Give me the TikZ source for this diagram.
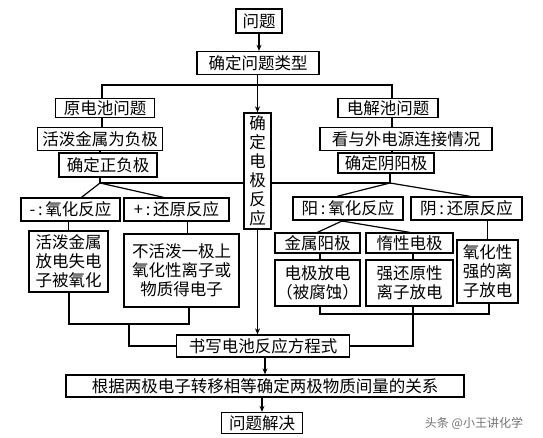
\documentclass[tikz,border=0pt]{standalone}
\usepackage{fontspec}
\newfontfamily\cjk{Noto Sans CJK SC}
\usetikzlibrary{arrows.meta, calc, positioning}
\tikzset{
  box/.style   = {draw, line width=1.3pt, inner sep=1pt, align=center,
                  font=\cjk\fontsize{16.5}{19}\selectfont},
  conn/.style  = {line width=1.2pt},
  arr/.style   = {line width=1.2pt, -{Stealth[length=6pt, width=5pt]}},
  wmark/.style = {font=\cjk\fontsize{12}{14}\selectfont, black!55},
}

\begin{document}
\begin{tikzpicture}[x=1pt, y=-1pt]
  \useasboundingbox[fill=white] (0,0) rectangle (543,438);
  % top of the chart
  \node[box, minimum width=46pt, minimum height=24pt] (q) at (259,21) {问题};
  \node[box, minimum width=122pt, minimum height=23pt] (type) at (258,63) {确定问题类型};
  \node[box, minimum width=27pt, minimum height=116pt] (vert) at (257.5,171)
       {确\\定\\电\\极\\反\\应};
  % primary cell, left column
  \node[box, minimum width=99pt, minimum height=19pt] (yuan) at (105,108) {原电池问题};
  \node[box, minimum width=125pt, minimum height=23pt] (huo) at (100,139) {活泼金属为负极};
  \node[box, minimum width=98pt, minimum height=24pt] (zheng) at (108,165) {确定正负极};
  \node[box, minimum width=99pt, minimum height=23pt] (ox) at (70.5,209.5) {-\,:\,氧化反应};
  \node[box, minimum width=105pt, minimum height=23pt] (red) at (176.5,209.5) {+\,:\,还原反应};
  \node[box, minimum width=79pt, minimum height=61pt] (neg) at (68.5,261.5)
       {活泼金属\\放电失电\\子被氧化};
  \node[box, minimum width=115pt, minimum height=73pt] (pos) at (181.5,270.5)
       {不活泼一极上\\氧化性离子或\\物质得电子};
  % electrolytic cell, right column
  \node[box, minimum width=100pt, minimum height=19pt] (dian) at (388,108) {电解池问题};
  \node[box, minimum width=172pt, minimum height=23pt] (kan) at (406,139) {看与外电源连接情况};
  \node[box, minimum width=96pt, minimum height=20pt] (yinyang) at (386,163) {确定阴阳极};
  \node[box, minimum width=110pt, minimum height=23pt] (yang) at (348,208.5) {阳\,:\,氧化反应};
  \node[box, minimum width=111pt, minimum height=23pt] (yin) at (466.5,208.5) {阴\,:\,还原反应};
  \node[box, minimum width=85pt, minimum height=20pt] (jinshu) at (317.5,243) {金属阳极};
  \node[box, minimum width=87pt, minimum height=20pt] (duoxing) at (409.5,243) {惰性电极};
  \node[box, minimum width=85pt, minimum height=46pt] (fushi) at (317.5,283)
       {电极放电\\（被腐蚀）};
  \node[box, minimum width=87pt, minimum height=46pt] (qiang) at (409.5,283)
       {强还原性\\离子放电};
  \node[box, minimum width=61pt, minimum height=63pt] (yanghua) at (487.5,271.5)
       {氧化性\\强的离\\子放电};
  % bottom of the chart
  \node[box, minimum width=173pt, minimum height=22pt] (shuxie) at (263,346) {书写电池反应方程式};
  \node[box, minimum width=398pt, minimum height=22pt] (genju) at (265,386)
       {根据两极电子转移相等确定两极物质间量的关系};
  \node[box, minimum width=81pt, minimum height=21pt] (jiejue) at (262,423) {问题解决};
  \node[wmark] (mark) at (474,423) {头条 @小王讲化学};

  % branching points
  \coordinate (tl) at (102,85);
  \coordinate (tr) at (392,85);
  \coordinate (a1) at (100,183);
  \coordinate (a2) at (390,183);
  \coordinate (a3) at (342,221);
  \coordinate (b1) at (69,324);
  \coordinate (b2) at (189,324);
  \coordinate (b3) at (129,324);
  \coordinate (c1) at (320,314);
  \coordinate (c2) at (489,314);
  \coordinate (c3) at (413,314);

  \draw[arr] (q.south) -- (q.south |- type.north);
  \draw[conn] (tl |- yuan.north) -- (tl) -- (tr) -- (tr |- dian.north);
  \draw[arr] (type.south -| vert.north) -- (vert.north);
  % left column
  \draw[conn] (yuan.south -| tl) -- (huo.north -| tl);
  \draw[conn] (huo.south -| a1) -- (zheng.north -| a1);
  \draw[conn] (zheng.south -| a1) -- (a1) -- (vert.west |- a1);
  \draw[conn] ($(ox.north)+(11,0)$) -- (a1) -- ($(red.north)+(-13,0)$);
  \draw[conn] (ox.south -| neg.north) -- (neg.north);
  \draw[conn] ($(red.south)+(11,0)$) -- ($(pos.north)+(6,0)$);
  % right column
  \draw[conn] (dian.south -| tr) -- (kan.north -| tr);
  \draw[conn] (kan.south -| tr) -- (yinyang.north -| tr);
  \draw[conn] (yinyang.south -| a2) -- (a2) -- (vert.east |- a2);
  \draw[conn] ($(yang.north)+(-11,0)$) -- (a2) -- ($(yin.north)+(3.5,0)$);
  \draw[conn] (jinshu.north) -- (a3) -- (duoxing.north);
  \draw[conn] (yang.south -| a3) -- (a3);
  \draw[conn] (yin.south -| yanghua.north) -- (yanghua.north);
  \draw[conn] (jinshu.south -| c1) -- (fushi.north -| c1);
  \draw[conn] (duoxing.south -| c3) -- (qiang.north -| c3);
  % collecting the equations
  \draw[conn] (neg.south -| b1) -- (b1) -- (b2) -- (b2 |- pos.south);
  \draw[conn] (b3) |- (shuxie.west);
  \draw[conn] (fushi.south -| c1) -- (c1) -- (c2) -- (c2 |- yanghua.south);
  \draw[conn] (qiang.south -| c3) |- (shuxie.east);
  \draw[arr] (vert.south) -- (vert.south |- shuxie.north);
  \draw[arr] (shuxie.south -| genju.north) -- (genju.north);
  \draw[arr] (genju.south -| jiejue.north) -- (jiejue.north);
\end{tikzpicture}
\end{document}
